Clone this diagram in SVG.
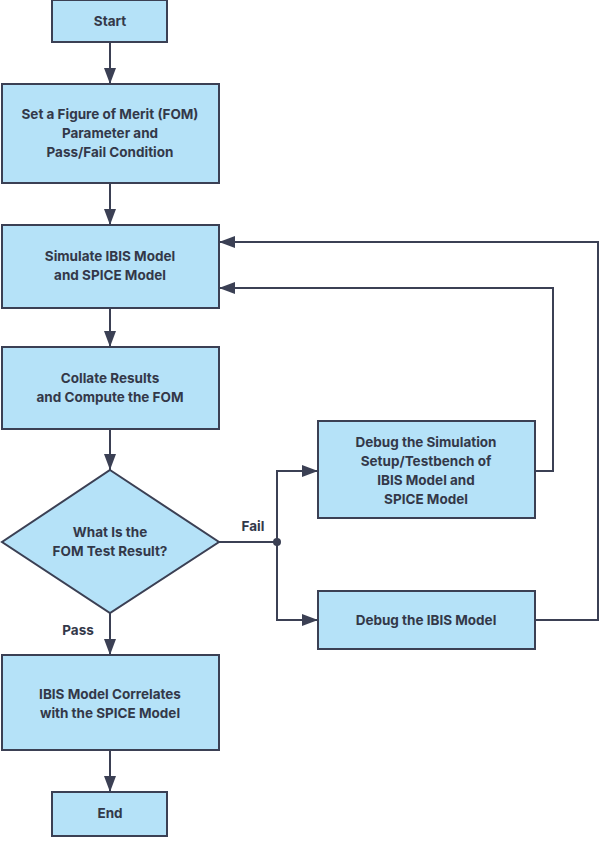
<svg xmlns="http://www.w3.org/2000/svg" width="600" height="841" viewBox="0 0 600 841">
<style>
.n{fill:#b5e2f8;stroke:#3b4054;stroke-width:2}
.t{font-family:"Inter","Liberation Sans",sans-serif;font-weight:bold;font-size:13.5px;fill:#333849;text-anchor:middle}
.c{fill:none;stroke:#3b4054;stroke-width:2}
</style>
<defs><marker id="a" viewBox="0 0 10 10" refX="10" refY="5" markerWidth="10" markerHeight="10" markerUnits="userSpaceOnUse" orient="auto"><path d="M0,0L10,5L0,10z" fill="#3b4054"/></marker>
<marker id="b" viewBox="0 0 16 12" refX="16" refY="6" markerWidth="16" markerHeight="12" markerUnits="userSpaceOnUse" orient="auto"><path d="M0,0L16,6L0,12z" fill="#3b4054"/></marker></defs>
<g id="connectors">
<path class="c" marker-end="url(#b)" d="M110,42V84"/>
<path class="c" marker-end="url(#b)" d="M110,183V225"/>
<path class="c" marker-end="url(#b)" d="M110,308V347"/>
<path class="c" marker-end="url(#b)" d="M110,429V470"/>
<path class="c" marker-end="url(#b)" d="M110,613V655"/>
<path class="c" marker-end="url(#b)" d="M110,750V792"/>
<path class="c" d="M219,542H277"/>
<path class="c" marker-end="url(#b)" d="M277,542V471H318"/>
<path class="c" marker-end="url(#b)" d="M277,542V620H318"/>
<path class="c" marker-end="url(#b)" d="M535,471H553V288H219"/>
<path class="c" marker-end="url(#b)" d="M535,620H598V242H219"/>
<circle cx="277" cy="542" r="4" fill="#3b4054"/>
<text class="t" x="253" y="531">Fail</text>
<text class="t" x="78" y="635">Pass</text>
</g>
<g id="start"><rect class="n" x="52" y="0" width="115" height="42"/><text class="t" x="110" y="26">Start</text></g>
<g id="fom"><rect class="n" x="2" y="84" width="217" height="99"/><text class="t" x="110" y="119">Set a Figure of Merit (FOM)<tspan x="110" dy="19">Parameter and</tspan><tspan x="110" dy="19">Pass/Fail Condition</tspan></text></g>
<g id="simulate"><rect class="n" x="2" y="225" width="217" height="83"/><text class="t" x="110" y="261">Simulate IBIS Model<tspan x="110" dy="19">and SPICE Model</tspan></text></g>
<g id="collate"><rect class="n" x="2" y="347" width="217" height="82"/><text class="t" x="110" y="383">Collate Results<tspan x="110" dy="19">and Compute the FOM</tspan></text></g>
<g id="decision"><path class="n" d="M110,470L219,542L110,613L2,542z"/><text class="t" x="110" y="537">What Is the<tspan x="110" dy="19">FOM Test Result?</tspan></text></g>
<g id="correlates"><rect class="n" x="2" y="655" width="217" height="95"/><text class="t" x="110" y="699">IBIS Model Correlates<tspan x="110" dy="19">with the SPICE Model</tspan></text></g>
<g id="end"><rect class="n" x="52" y="792" width="115" height="44"/><text class="t" x="110" y="818">End</text></g>
<g id="debugsim"><rect class="n" x="318" y="421" width="217" height="97"/><text class="t" x="426" y="447">Debug the Simulation<tspan x="426" dy="19">Setup/Testbench of</tspan><tspan x="426" dy="19">IBIS Model and</tspan><tspan x="426" dy="19">SPICE Model</tspan></text></g>
<g id="debugibis"><rect class="n" x="318" y="591" width="217" height="58"/><text class="t" x="426" y="625">Debug the IBIS Model</text></g>
</svg>
